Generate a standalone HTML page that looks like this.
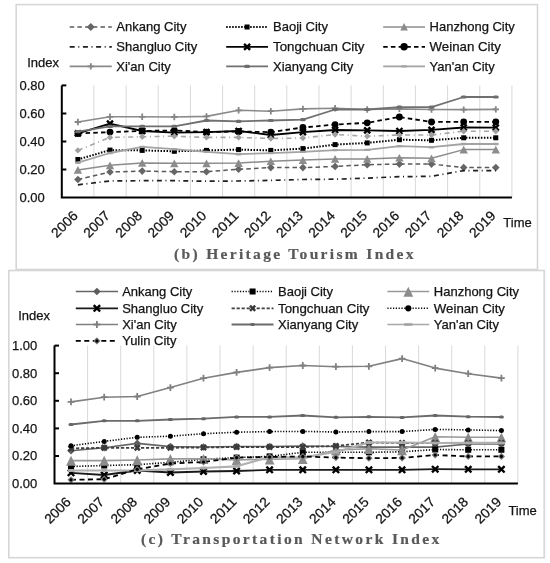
<!DOCTYPE html>
<html><head><meta charset="utf-8"><title>Heritage Tourism Index and Transportation Network Index</title>
<style>
html,body{margin:0;padding:0;background:#fff;width:550px;height:563px;overflow:hidden}
svg{display:block}
text{fill:#141414;stroke:#141414;stroke-width:0.25px}
text.ttl{fill:#595959;stroke:#595959;stroke-width:0.2px}
</style></head><body>
<svg width="550" height="563" viewBox="0 0 550 563" font-family='"Liberation Sans", Arial, sans-serif' font-size="13">
<rect width="550" height="563" fill="#fff"/>
<rect x="16.2" y="4.6" width="521.3" height="264.9" fill="none" stroke="#d6d6d6" stroke-width="1.6"/>
<rect x="8.8" y="270.5" width="535.4" height="287.2" fill="none" stroke="#d6d6d6" stroke-width="1.6"/>
<line x1="93.9" y1="85.4" x2="93.9" y2="197.6" stroke="#d9d9d9" stroke-width="1"/>
<line x1="126.1" y1="85.4" x2="126.1" y2="197.6" stroke="#d9d9d9" stroke-width="1"/>
<line x1="158.2" y1="85.4" x2="158.2" y2="197.6" stroke="#d9d9d9" stroke-width="1"/>
<line x1="190.4" y1="85.4" x2="190.4" y2="197.6" stroke="#d9d9d9" stroke-width="1"/>
<line x1="222.6" y1="85.4" x2="222.6" y2="197.6" stroke="#d9d9d9" stroke-width="1"/>
<line x1="254.7" y1="85.4" x2="254.7" y2="197.6" stroke="#d9d9d9" stroke-width="1"/>
<line x1="286.8" y1="85.4" x2="286.8" y2="197.6" stroke="#d9d9d9" stroke-width="1"/>
<line x1="319" y1="85.4" x2="319" y2="197.6" stroke="#d9d9d9" stroke-width="1"/>
<line x1="351.1" y1="85.4" x2="351.1" y2="197.6" stroke="#d9d9d9" stroke-width="1"/>
<line x1="383.3" y1="85.4" x2="383.3" y2="197.6" stroke="#d9d9d9" stroke-width="1"/>
<line x1="415.4" y1="85.4" x2="415.4" y2="197.6" stroke="#d9d9d9" stroke-width="1"/>
<line x1="447.6" y1="85.4" x2="447.6" y2="197.6" stroke="#d9d9d9" stroke-width="1"/>
<line x1="479.8" y1="85.4" x2="479.8" y2="197.6" stroke="#d9d9d9" stroke-width="1"/>
<line x1="511.9" y1="85.4" x2="511.9" y2="197.6" stroke="#d9d9d9" stroke-width="1"/>
<polyline points="77.9,179.5 110,172 142.2,171.1 174.3,171.7 206.5,171.7 238.6,169.3 270.8,167.6 302.9,167.6 335.1,166.4 367.2,164.7 399.4,164.1 431.5,164.1 463.7,167.6 495.8,167.6" fill="none" stroke="#595959" stroke-width="1.5" stroke-linejoin="round" stroke-dasharray="4.5 3.2"/>
<polygon points="77.9,175.7 81.7,179.5 77.9,183.3 74.1,179.5" fill="#666666"/>
<polygon points="110,168.2 113.8,172 110,175.8 106.2,172" fill="#666666"/>
<polygon points="142.2,167.3 146,171.1 142.2,174.9 138.4,171.1" fill="#666666"/>
<polygon points="174.3,167.9 178.1,171.7 174.3,175.5 170.5,171.7" fill="#666666"/>
<polygon points="206.5,167.9 210.3,171.7 206.5,175.5 202.7,171.7" fill="#666666"/>
<polygon points="238.6,165.5 242.4,169.3 238.6,173.1 234.8,169.3" fill="#666666"/>
<polygon points="270.8,163.8 274.6,167.6 270.8,171.4 267,167.6" fill="#666666"/>
<polygon points="302.9,163.8 306.7,167.6 302.9,171.4 299.1,167.6" fill="#666666"/>
<polygon points="335.1,162.6 338.9,166.4 335.1,170.2 331.3,166.4" fill="#666666"/>
<polygon points="367.2,160.9 371,164.7 367.2,168.5 363.4,164.7" fill="#666666"/>
<polygon points="399.4,160.3 403.2,164.1 399.4,167.9 395.6,164.1" fill="#666666"/>
<polygon points="431.5,160.3 435.3,164.1 431.5,167.9 427.7,164.1" fill="#666666"/>
<polygon points="463.7,163.8 467.5,167.6 463.7,171.4 459.9,167.6" fill="#666666"/>
<polygon points="495.8,163.8 499.6,167.6 495.8,171.4 492,167.6" fill="#666666"/>
<polyline points="77.9,159.5 110,150.1 142.2,150.4 174.3,151.3 206.5,150.4 238.6,149.6 270.8,150.4 302.9,148.6 335.1,144.6 367.2,142.9 399.4,139.7 431.5,140.3 463.7,137.8 495.8,137.8" fill="none" stroke="#000" stroke-width="2" stroke-linejoin="round" stroke-dasharray="1.5 1.5"/>
<rect x="75.4" y="157" width="5" height="5" fill="#000"/>
<rect x="107.5" y="147.6" width="5" height="5" fill="#000"/>
<rect x="139.7" y="147.9" width="5" height="5" fill="#000"/>
<rect x="171.8" y="148.8" width="5" height="5" fill="#000"/>
<rect x="204" y="147.9" width="5" height="5" fill="#000"/>
<rect x="236.1" y="147.1" width="5" height="5" fill="#000"/>
<rect x="268.3" y="147.9" width="5" height="5" fill="#000"/>
<rect x="300.4" y="146.1" width="5" height="5" fill="#000"/>
<rect x="332.6" y="142.1" width="5" height="5" fill="#000"/>
<rect x="364.7" y="140.4" width="5" height="5" fill="#000"/>
<rect x="396.9" y="137.2" width="5" height="5" fill="#000"/>
<rect x="429" y="137.8" width="5" height="5" fill="#000"/>
<rect x="461.2" y="135.3" width="5" height="5" fill="#000"/>
<rect x="493.3" y="135.3" width="5" height="5" fill="#000"/>
<polyline points="77.9,169.9 110,165.3 142.2,162.9 174.3,163.3 206.5,163.3 238.6,163 270.8,161.2 302.9,160 335.1,158.9 367.2,158.9 399.4,157.7 431.5,158.3 463.7,149.6 495.8,149.6" fill="none" stroke="#8c8c8c" stroke-width="1.5" stroke-linejoin="round"/>
<polygon points="77.9,166.1 82.1,173.8 73.7,173.8" fill="#8c8c8c"/>
<polygon points="110,161.5 114.2,169.2 105.8,169.2" fill="#8c8c8c"/>
<polygon points="142.2,159.1 146.4,166.8 138,166.8" fill="#8c8c8c"/>
<polygon points="174.3,159.5 178.5,167.2 170.1,167.2" fill="#8c8c8c"/>
<polygon points="206.5,159.5 210.7,167.2 202.3,167.2" fill="#8c8c8c"/>
<polygon points="238.6,159.2 242.8,166.9 234.4,166.9" fill="#8c8c8c"/>
<polygon points="270.8,157.4 275,165.1 266.6,165.1" fill="#8c8c8c"/>
<polygon points="302.9,156.2 307.1,163.9 298.7,163.9" fill="#8c8c8c"/>
<polygon points="335.1,155.1 339.3,162.8 330.9,162.8" fill="#8c8c8c"/>
<polygon points="367.2,155.1 371.4,162.8 363,162.8" fill="#8c8c8c"/>
<polygon points="399.4,153.9 403.6,161.6 395.2,161.6" fill="#8c8c8c"/>
<polygon points="431.5,154.5 435.7,162.2 427.3,162.2" fill="#8c8c8c"/>
<polygon points="463.7,145.8 467.9,153.5 459.5,153.5" fill="#8c8c8c"/>
<polygon points="495.8,145.8 500,153.5 491.6,153.5" fill="#8c8c8c"/>
<polyline points="77.9,184.8 110,181 142.2,180.7 174.3,180.7 206.5,181.2 238.6,181 270.8,180.4 302.9,179.5 335.1,179.2 367.2,178.1 399.4,176.7 431.5,176.3 463.7,170.6 495.8,170.6" fill="none" stroke="#1f1f1f" stroke-width="1.7" stroke-linejoin="round" stroke-dasharray="5 3.6 1 3.6"/>














<polyline points="77.9,133.3 110,123.6 142.2,131 174.3,132.7 206.5,132.1 238.6,131 270.8,135 302.9,132.1 335.1,130 367.2,130.4 399.4,131 431.5,129.8 463.7,127.5 495.8,127.6" fill="none" stroke="#000" stroke-width="1.8" stroke-linejoin="round"/>
<path d="M74.9 130.3L80.9 136.3M80.9 130.3L74.9 136.3" stroke="#000" stroke-width="2.4" fill="none"/>
<path d="M107 120.6L113 126.6M113 120.6L107 126.6" stroke="#000" stroke-width="2.4" fill="none"/>
<path d="M139.2 128L145.2 134M145.2 128L139.2 134" stroke="#000" stroke-width="2.4" fill="none"/>
<path d="M171.3 129.7L177.3 135.7M177.3 129.7L171.3 135.7" stroke="#000" stroke-width="2.4" fill="none"/>
<path d="M203.5 129.1L209.5 135.1M209.5 129.1L203.5 135.1" stroke="#000" stroke-width="2.4" fill="none"/>
<path d="M235.6 128L241.6 134M241.6 128L235.6 134" stroke="#000" stroke-width="2.4" fill="none"/>
<path d="M267.8 132L273.8 138M273.8 132L267.8 138" stroke="#000" stroke-width="2.4" fill="none"/>
<path d="M299.9 129.1L305.9 135.1M305.9 129.1L299.9 135.1" stroke="#000" stroke-width="2.4" fill="none"/>
<path d="M332.1 127L338.1 133M338.1 127L332.1 133" stroke="#000" stroke-width="2.4" fill="none"/>
<path d="M364.2 127.4L370.2 133.4M370.2 127.4L364.2 133.4" stroke="#000" stroke-width="2.4" fill="none"/>
<path d="M396.4 128L402.4 134M402.4 128L396.4 134" stroke="#000" stroke-width="2.4" fill="none"/>
<path d="M428.5 126.8L434.5 132.8M434.5 126.8L428.5 132.8" stroke="#000" stroke-width="2.4" fill="none"/>
<path d="M460.7 124.5L466.7 130.5M466.7 124.5L460.7 130.5" stroke="#000" stroke-width="2.4" fill="none"/>
<path d="M492.8 124.6L498.8 130.6M498.8 124.6L492.8 130.6" stroke="#000" stroke-width="2.4" fill="none"/>
<polyline points="77.9,133.5 110,132.1 142.2,131 174.3,130.4 206.5,132.1 238.6,131.5 270.8,132.1 302.9,127.5 335.1,124.6 367.2,122.8 399.4,117 431.5,122 463.7,121.8 495.8,121.8" fill="none" stroke="#000" stroke-width="1.8" stroke-linejoin="round" stroke-dasharray="4.5 3.2"/>
<circle cx="77.9" cy="133.5" r="3.4" fill="#000"/>
<circle cx="110" cy="132.1" r="3.4" fill="#000"/>
<circle cx="142.2" cy="131" r="3.4" fill="#000"/>
<circle cx="174.3" cy="130.4" r="3.4" fill="#000"/>
<circle cx="206.5" cy="132.1" r="3.4" fill="#000"/>
<circle cx="238.6" cy="131.5" r="3.4" fill="#000"/>
<circle cx="270.8" cy="132.1" r="3.4" fill="#000"/>
<circle cx="302.9" cy="127.5" r="3.4" fill="#000"/>
<circle cx="335.1" cy="124.6" r="3.4" fill="#000"/>
<circle cx="367.2" cy="122.8" r="3.4" fill="#000"/>
<circle cx="399.4" cy="117" r="3.4" fill="#000"/>
<circle cx="431.5" cy="122" r="3.4" fill="#000"/>
<circle cx="463.7" cy="121.8" r="3.4" fill="#000"/>
<circle cx="495.8" cy="121.8" r="3.4" fill="#000"/>
<polyline points="77.9,122 110,116.8 142.2,116.8 174.3,117 206.5,116.4 238.6,110.3 270.8,111.2 302.9,108.9 335.1,108.3 367.2,109.5 399.4,108.9 431.5,109.5 463.7,109.6 495.8,109.4" fill="none" stroke="#8a8a8a" stroke-width="1.6" stroke-linejoin="round"/>
<path d="M74.7 122L81.1 122M77.9 118.8L77.9 125.2" stroke="#858585" stroke-width="1.8" fill="none"/>
<path d="M106.8 116.8L113.2 116.8M110 113.6L110 120" stroke="#858585" stroke-width="1.8" fill="none"/>
<path d="M139 116.8L145.4 116.8M142.2 113.6L142.2 120" stroke="#858585" stroke-width="1.8" fill="none"/>
<path d="M171.1 117L177.5 117M174.3 113.8L174.3 120.2" stroke="#858585" stroke-width="1.8" fill="none"/>
<path d="M203.3 116.4L209.7 116.4M206.5 113.2L206.5 119.6" stroke="#858585" stroke-width="1.8" fill="none"/>
<path d="M235.4 110.3L241.8 110.3M238.6 107.1L238.6 113.5" stroke="#858585" stroke-width="1.8" fill="none"/>
<path d="M267.6 111.2L274 111.2M270.8 108L270.8 114.4" stroke="#858585" stroke-width="1.8" fill="none"/>
<path d="M299.7 108.9L306.1 108.9M302.9 105.7L302.9 112.1" stroke="#858585" stroke-width="1.8" fill="none"/>
<path d="M331.9 108.3L338.3 108.3M335.1 105.1L335.1 111.5" stroke="#858585" stroke-width="1.8" fill="none"/>
<path d="M364 109.5L370.4 109.5M367.2 106.3L367.2 112.7" stroke="#858585" stroke-width="1.8" fill="none"/>
<path d="M396.2 108.9L402.6 108.9M399.4 105.7L399.4 112.1" stroke="#858585" stroke-width="1.8" fill="none"/>
<path d="M428.3 109.5L434.7 109.5M431.5 106.3L431.5 112.7" stroke="#858585" stroke-width="1.8" fill="none"/>
<path d="M460.5 109.6L466.9 109.6M463.7 106.4L463.7 112.8" stroke="#858585" stroke-width="1.8" fill="none"/>
<path d="M492.6 109.4L499 109.4M495.8 106.2L495.8 112.6" stroke="#858585" stroke-width="1.8" fill="none"/>
<polyline points="77.9,131.6 110,126.3 142.2,126.3 174.3,126.3 206.5,120.5 238.6,121.3 270.8,120.5 302.9,119.6 335.1,109.5 367.2,109.5 399.4,107.1 431.5,107.1 463.7,97 495.8,97" fill="none" stroke="#707070" stroke-width="1.8" stroke-linejoin="round"/>
<rect x="74.9" y="130" width="6" height="3.2" rx="1.6" fill="#6e6e6e"/>
<rect x="107" y="124.7" width="6" height="3.2" rx="1.6" fill="#6e6e6e"/>
<rect x="139.2" y="124.7" width="6" height="3.2" rx="1.6" fill="#6e6e6e"/>
<rect x="171.3" y="124.7" width="6" height="3.2" rx="1.6" fill="#6e6e6e"/>
<rect x="203.5" y="118.9" width="6" height="3.2" rx="1.6" fill="#6e6e6e"/>
<rect x="235.6" y="119.7" width="6" height="3.2" rx="1.6" fill="#6e6e6e"/>
<rect x="267.8" y="118.9" width="6" height="3.2" rx="1.6" fill="#6e6e6e"/>
<rect x="299.9" y="118" width="6" height="3.2" rx="1.6" fill="#6e6e6e"/>
<rect x="332.1" y="107.9" width="6" height="3.2" rx="1.6" fill="#6e6e6e"/>
<rect x="364.2" y="107.9" width="6" height="3.2" rx="1.6" fill="#6e6e6e"/>
<rect x="396.4" y="105.5" width="6" height="3.2" rx="1.6" fill="#6e6e6e"/>
<rect x="428.5" y="105.5" width="6" height="3.2" rx="1.6" fill="#6e6e6e"/>
<rect x="460.7" y="95.4" width="6" height="3.2" rx="1.6" fill="#6e6e6e"/>
<rect x="492.8" y="95.4" width="6" height="3.2" rx="1.6" fill="#6e6e6e"/>
<polyline points="77.9,162.7 110,153 142.2,146.9 174.3,149.2 206.5,151.9 238.6,154.2 270.8,153.1 302.9,151.9 335.1,150.1 367.2,149.9 399.4,146.1 431.5,147.2 463.7,144 495.8,144" fill="none" stroke="#a3a3a3" stroke-width="1.8" stroke-linejoin="round"/>
<rect x="74.9" y="161.5" width="6" height="2.4" rx="1.2" fill="#a3a3a3"/>
<rect x="107" y="151.8" width="6" height="2.4" rx="1.2" fill="#a3a3a3"/>
<rect x="139.2" y="145.7" width="6" height="2.4" rx="1.2" fill="#a3a3a3"/>
<rect x="171.3" y="148" width="6" height="2.4" rx="1.2" fill="#a3a3a3"/>
<rect x="203.5" y="150.7" width="6" height="2.4" rx="1.2" fill="#a3a3a3"/>
<rect x="235.6" y="153" width="6" height="2.4" rx="1.2" fill="#a3a3a3"/>
<rect x="267.8" y="151.9" width="6" height="2.4" rx="1.2" fill="#a3a3a3"/>
<rect x="299.9" y="150.7" width="6" height="2.4" rx="1.2" fill="#a3a3a3"/>
<rect x="332.1" y="148.9" width="6" height="2.4" rx="1.2" fill="#a3a3a3"/>
<rect x="364.2" y="148.7" width="6" height="2.4" rx="1.2" fill="#a3a3a3"/>
<rect x="396.4" y="144.9" width="6" height="2.4" rx="1.2" fill="#a3a3a3"/>
<rect x="428.5" y="146" width="6" height="2.4" rx="1.2" fill="#a3a3a3"/>
<rect x="460.7" y="142.8" width="6" height="2.4" rx="1.2" fill="#a3a3a3"/>
<rect x="492.8" y="142.8" width="6" height="2.4" rx="1.2" fill="#a3a3a3"/>
<polyline points="77.9,150.4 110,137.4 142.2,136.8 174.3,136.2 206.5,137.4 238.6,137.4 270.8,138.5 302.9,138 335.1,134.5 367.2,136.2 399.4,135 431.5,135 463.7,131.2 495.8,131.2" fill="none" stroke="#a6a6a6" stroke-width="1.6" stroke-linejoin="round" stroke-dasharray="5 3.6 1 3.6"/>
<polygon points="77.9,147.2 81.1,150.4 77.9,153.6 74.7,150.4" fill="#a0a0a0"/>
<polygon points="110,134.2 113.2,137.4 110,140.6 106.8,137.4" fill="#a0a0a0"/>
<polygon points="142.2,133.6 145.4,136.8 142.2,140 139,136.8" fill="#a0a0a0"/>
<polygon points="174.3,133 177.5,136.2 174.3,139.4 171.1,136.2" fill="#a0a0a0"/>
<polygon points="206.5,134.2 209.7,137.4 206.5,140.6 203.3,137.4" fill="#a0a0a0"/>
<polygon points="238.6,134.2 241.8,137.4 238.6,140.6 235.4,137.4" fill="#a0a0a0"/>
<polygon points="270.8,135.3 274,138.5 270.8,141.7 267.6,138.5" fill="#a0a0a0"/>
<polygon points="302.9,134.8 306.1,138 302.9,141.2 299.7,138" fill="#a0a0a0"/>
<polygon points="335.1,131.3 338.3,134.5 335.1,137.7 331.9,134.5" fill="#a0a0a0"/>
<polygon points="367.2,133 370.4,136.2 367.2,139.4 364,136.2" fill="#a0a0a0"/>
<polygon points="399.4,131.8 402.6,135 399.4,138.2 396.2,135" fill="#a0a0a0"/>
<polygon points="431.5,131.8 434.7,135 431.5,138.2 428.3,135" fill="#a0a0a0"/>
<polygon points="463.7,128 466.9,131.2 463.7,134.4 460.5,131.2" fill="#a0a0a0"/>
<polygon points="495.8,128 499,131.2 495.8,134.4 492.6,131.2" fill="#a0a0a0"/>
<path d="M61.8 85.4V197.6H511.9" fill="none" stroke="#000" stroke-width="2"/>
<text x="44.8" y="201.9" text-anchor="end">0.00</text>
<line x1="61.8" y1="169.5" x2="66.3" y2="169.5" stroke="#000" stroke-width="2"/>
<text x="44.8" y="173.8" text-anchor="end">0.20</text>
<line x1="61.8" y1="141.5" x2="66.3" y2="141.5" stroke="#000" stroke-width="2"/>
<text x="44.8" y="145.8" text-anchor="end">0.40</text>
<line x1="61.8" y1="113.5" x2="66.3" y2="113.5" stroke="#000" stroke-width="2"/>
<text x="44.8" y="117.8" text-anchor="end">0.60</text>
<line x1="61.8" y1="85.4" x2="66.3" y2="85.4" stroke="#000" stroke-width="2"/>
<text x="44.8" y="89.7" text-anchor="end">0.80</text>
<text x="27.2" y="66.9">Index</text>
<text transform="translate(78.7,216.5) rotate(-45)" text-anchor="end" font-size="13.6" textLength="31" lengthAdjust="spacingAndGlyphs">2006</text>
<text transform="translate(110.8,216.5) rotate(-45)" text-anchor="end" font-size="13.6" textLength="31" lengthAdjust="spacingAndGlyphs">2007</text>
<text transform="translate(143,216.5) rotate(-45)" text-anchor="end" font-size="13.6" textLength="31" lengthAdjust="spacingAndGlyphs">2008</text>
<text transform="translate(175.1,216.5) rotate(-45)" text-anchor="end" font-size="13.6" textLength="31" lengthAdjust="spacingAndGlyphs">2009</text>
<text transform="translate(207.3,216.5) rotate(-45)" text-anchor="end" font-size="13.6" textLength="31" lengthAdjust="spacingAndGlyphs">2010</text>
<text transform="translate(239.4,216.5) rotate(-45)" text-anchor="end" font-size="13.6" textLength="31" lengthAdjust="spacingAndGlyphs">2011</text>
<text transform="translate(271.6,216.5) rotate(-45)" text-anchor="end" font-size="13.6" textLength="31" lengthAdjust="spacingAndGlyphs">2012</text>
<text transform="translate(303.7,216.5) rotate(-45)" text-anchor="end" font-size="13.6" textLength="31" lengthAdjust="spacingAndGlyphs">2013</text>
<text transform="translate(335.9,216.5) rotate(-45)" text-anchor="end" font-size="13.6" textLength="31" lengthAdjust="spacingAndGlyphs">2014</text>
<text transform="translate(368,216.5) rotate(-45)" text-anchor="end" font-size="13.6" textLength="31" lengthAdjust="spacingAndGlyphs">2015</text>
<text transform="translate(400.2,216.5) rotate(-45)" text-anchor="end" font-size="13.6" textLength="31" lengthAdjust="spacingAndGlyphs">2016</text>
<text transform="translate(432.3,216.5) rotate(-45)" text-anchor="end" font-size="13.6" textLength="31" lengthAdjust="spacingAndGlyphs">2017</text>
<text transform="translate(464.5,216.5) rotate(-45)" text-anchor="end" font-size="13.6" textLength="31" lengthAdjust="spacingAndGlyphs">2018</text>
<text transform="translate(496.6,216.5) rotate(-45)" text-anchor="end" font-size="13.6" textLength="31" lengthAdjust="spacingAndGlyphs">2019</text>
<text x="503.3" y="227.1">Time</text>
<text x="174" y="258.7" font-family='"Liberation Serif", "Times New Roman", serif' font-weight="bold" font-size="15.5" class="ttl" textLength="239.5" lengthAdjust="spacing">(b) Heritage Tourism Index</text>
<line x1="69.7" y1="27" x2="111.8" y2="27" stroke="#595959" stroke-width="1.5" stroke-dasharray="4.5 3.2"/><polygon points="90.8,22.9 94.8,27 90.8,31.1 86.7,27" fill="#666666"/><text x="116.3" y="31.2">Ankang City</text>
<line x1="226.2" y1="27" x2="268" y2="27" stroke="#000" stroke-width="2" stroke-dasharray="1.5 1.5"/><rect x="244.6" y="24.5" width="5" height="5" fill="#000"/><text x="273" y="31.2">Baoji City</text>
<line x1="383.2" y1="27" x2="425" y2="27" stroke="#8c8c8c" stroke-width="1.5"/><polygon points="404.1,23 407.9,30.6 400.3,30.6" fill="#8c8c8c"/><text x="429.6" y="31.2">Hanzhong City</text>
<line x1="69.7" y1="46.8" x2="111.8" y2="46.8" stroke="#1f1f1f" stroke-width="1.7" stroke-dasharray="5 3.6 1 3.6"/><text x="116.3" y="51">Shangluo City</text>
<line x1="226.2" y1="46.8" x2="268" y2="46.8" stroke="#000" stroke-width="1.8"/><path d="M244.1 43.8L250.1 49.8M250.1 43.8L244.1 49.8" stroke="#000" stroke-width="2.4" fill="none"/><text x="273" y="51" textLength="91.5" lengthAdjust="spacingAndGlyphs">Tongchuan City</text>
<line x1="383.2" y1="46.8" x2="425" y2="46.8" stroke="#000" stroke-width="1.8" stroke-dasharray="4.5 3.2"/><circle cx="404.1" cy="46.8" r="3.7" fill="#000"/><text x="429.6" y="51" textLength="71.2" lengthAdjust="spacingAndGlyphs">Weinan City</text>
<line x1="69.7" y1="66.4" x2="111.8" y2="66.4" stroke="#8a8a8a" stroke-width="1.6"/><path d="M87.5 66.4L94 66.4M90.8 63.2L90.8 69.6" stroke="#858585" stroke-width="1.8" fill="none"/><text x="116.3" y="70.6">Xi'an City</text>
<line x1="226.2" y1="66.4" x2="268" y2="66.4" stroke="#707070" stroke-width="1.8"/><rect x="244.1" y="64.8" width="6" height="3.2" rx="1.6" fill="#6e6e6e"/><text x="273" y="70.6">Xianyang City</text>
<line x1="383.2" y1="66.4" x2="425" y2="66.4" stroke="#a3a3a3" stroke-width="1.8"/><rect x="401.1" y="65.2" width="6" height="2.4" rx="1.2" fill="#a3a3a3"/><text x="429.6" y="70.6">Yan'an City</text>
<line x1="87.6" y1="345.6" x2="87.6" y2="483.6" stroke="#d9d9d9" stroke-width="1"/>
<line x1="120.7" y1="345.6" x2="120.7" y2="483.6" stroke="#d9d9d9" stroke-width="1"/>
<line x1="153.8" y1="345.6" x2="153.8" y2="483.6" stroke="#d9d9d9" stroke-width="1"/>
<line x1="186.9" y1="345.6" x2="186.9" y2="483.6" stroke="#d9d9d9" stroke-width="1"/>
<line x1="220" y1="345.6" x2="220" y2="483.6" stroke="#d9d9d9" stroke-width="1"/>
<line x1="253.1" y1="345.6" x2="253.1" y2="483.6" stroke="#d9d9d9" stroke-width="1"/>
<line x1="286.2" y1="345.6" x2="286.2" y2="483.6" stroke="#d9d9d9" stroke-width="1"/>
<line x1="319.3" y1="345.6" x2="319.3" y2="483.6" stroke="#d9d9d9" stroke-width="1"/>
<line x1="352.4" y1="345.6" x2="352.4" y2="483.6" stroke="#d9d9d9" stroke-width="1"/>
<line x1="385.5" y1="345.6" x2="385.5" y2="483.6" stroke="#d9d9d9" stroke-width="1"/>
<line x1="418.6" y1="345.6" x2="418.6" y2="483.6" stroke="#d9d9d9" stroke-width="1"/>
<line x1="451.7" y1="345.6" x2="451.7" y2="483.6" stroke="#d9d9d9" stroke-width="1"/>
<line x1="484.8" y1="345.6" x2="484.8" y2="483.6" stroke="#d9d9d9" stroke-width="1"/>
<line x1="517.9" y1="345.6" x2="517.9" y2="483.6" stroke="#d9d9d9" stroke-width="1"/>
<polyline points="71,450.7 104.2,447.8 137.2,443.4 170.4,446.6 203.5,447 236.6,446.5 269.6,446.5 302.8,446 335.9,446.5 368.9,447.1 402.1,447.1 435.2,447.1 468.2,444 501.4,444" fill="none" stroke="#666666" stroke-width="1.6" stroke-linejoin="round"/>
<polygon points="71,446.9 74.8,450.7 71,454.5 67.2,450.7" fill="#5e5e5e"/>
<polygon points="104.2,444 108,447.8 104.2,451.6 100.4,447.8" fill="#5e5e5e"/>
<polygon points="137.2,439.6 141.1,443.4 137.2,447.2 133.4,443.4" fill="#5e5e5e"/>
<polygon points="170.4,442.8 174.2,446.6 170.4,450.4 166.6,446.6" fill="#5e5e5e"/>
<polygon points="203.5,443.2 207.3,447 203.5,450.8 199.7,447" fill="#5e5e5e"/>
<polygon points="236.6,442.7 240.4,446.5 236.6,450.3 232.8,446.5" fill="#5e5e5e"/>
<polygon points="269.6,442.7 273.4,446.5 269.6,450.3 265.8,446.5" fill="#5e5e5e"/>
<polygon points="302.8,442.2 306.6,446 302.8,449.8 298.9,446" fill="#5e5e5e"/>
<polygon points="335.9,442.7 339.7,446.5 335.9,450.3 332.1,446.5" fill="#5e5e5e"/>
<polygon points="368.9,443.3 372.8,447.1 368.9,450.9 365.1,447.1" fill="#5e5e5e"/>
<polygon points="402.1,443.3 405.9,447.1 402.1,450.9 398.2,447.1" fill="#5e5e5e"/>
<polygon points="435.2,443.3 439,447.1 435.2,450.9 431.4,447.1" fill="#5e5e5e"/>
<polygon points="468.2,440.2 472.1,444 468.2,447.8 464.4,444" fill="#5e5e5e"/>
<polygon points="501.4,440.2 505.2,444 501.4,447.8 497.6,444" fill="#5e5e5e"/>
<polyline points="71,466.5 104.2,465.5 137.2,464.7 170.4,462.3 203.5,459.3 236.6,457.6 269.6,456.4 302.8,452.3 335.9,452.3 368.9,452.3 402.1,451.8 435.2,449.5 468.2,449.8 501.4,449.8" fill="none" stroke="#000" stroke-width="1.6" stroke-linejoin="round" stroke-dasharray="1.2 1.6"/>
<rect x="68" y="463.5" width="6" height="6" fill="#000"/>
<rect x="101.2" y="462.5" width="6" height="6" fill="#000"/>
<rect x="134.2" y="461.7" width="6" height="6" fill="#000"/>
<rect x="167.4" y="459.3" width="6" height="6" fill="#000"/>
<rect x="200.5" y="456.3" width="6" height="6" fill="#000"/>
<rect x="233.6" y="454.6" width="6" height="6" fill="#000"/>
<rect x="266.6" y="453.4" width="6" height="6" fill="#000"/>
<rect x="299.8" y="449.3" width="6" height="6" fill="#000"/>
<rect x="332.9" y="449.3" width="6" height="6" fill="#000"/>
<rect x="365.9" y="449.3" width="6" height="6" fill="#000"/>
<rect x="399.1" y="448.8" width="6" height="6" fill="#000"/>
<rect x="432.2" y="446.5" width="6" height="6" fill="#000"/>
<rect x="465.2" y="446.8" width="6" height="6" fill="#000"/>
<rect x="498.4" y="446.8" width="6" height="6" fill="#000"/>
<polyline points="71,460.6 104.2,460.6 137.2,460 170.4,458.9 203.5,458.7 236.6,459.9 269.6,459.3 302.8,458.7 335.9,450 368.9,448.8 402.1,450 435.2,436.8 468.2,437.2 501.4,437.2" fill="none" stroke="#999" stroke-width="1.6" stroke-linejoin="round"/>
<polygon points="71,455.8 76,465.8 66.1,465.8" fill="#8c8c8c"/>
<polygon points="104.2,455.8 109.1,465.8 99.2,465.8" fill="#8c8c8c"/>
<polygon points="137.2,455.2 142.2,465.2 132.3,465.2" fill="#8c8c8c"/>
<polygon points="170.4,454.1 175.3,464.1 165.5,464.1" fill="#8c8c8c"/>
<polygon points="203.5,453.9 208.4,463.9 198.6,463.9" fill="#8c8c8c"/>
<polygon points="236.6,455.1 241.5,465.1 231.7,465.1" fill="#8c8c8c"/>
<polygon points="269.6,454.5 274.5,464.5 264.8,464.5" fill="#8c8c8c"/>
<polygon points="302.8,453.9 307.6,463.9 297.9,463.9" fill="#8c8c8c"/>
<polygon points="335.9,445.2 340.8,455.2 331,455.2" fill="#8c8c8c"/>
<polygon points="368.9,444 373.8,454 364.1,454" fill="#8c8c8c"/>
<polygon points="402.1,445.2 406.9,455.2 397.2,455.2" fill="#8c8c8c"/>
<polygon points="435.2,432 440.1,442 430.3,442" fill="#8c8c8c"/>
<polygon points="468.2,432.4 473.1,442.4 463.4,442.4" fill="#8c8c8c"/>
<polygon points="501.4,432.4 506.2,442.4 496.5,442.4" fill="#8c8c8c"/>
<polyline points="71,472.8 104.2,475 137.2,470.5 170.4,472.5 203.5,471.5 236.6,471 269.6,469.8 302.8,469.8 335.9,469.8 368.9,469.8 402.1,469.8 435.2,469.2 468.2,469.3 501.4,469.3" fill="none" stroke="#1a1a1a" stroke-width="1.8" stroke-linejoin="round"/>
<path d="M67.8 469.6L74.2 476M74.2 469.6L67.8 476" stroke="#000" stroke-width="2.4" fill="none"/>
<path d="M101 471.8L107.4 478.2M107.4 471.8L101 478.2" stroke="#000" stroke-width="2.4" fill="none"/>
<path d="M134.1 467.3L140.4 473.7M140.4 467.3L134.1 473.7" stroke="#000" stroke-width="2.4" fill="none"/>
<path d="M167.2 469.3L173.6 475.7M173.6 469.3L167.2 475.7" stroke="#000" stroke-width="2.4" fill="none"/>
<path d="M200.3 468.3L206.7 474.7M206.7 468.3L200.3 474.7" stroke="#000" stroke-width="2.4" fill="none"/>
<path d="M233.4 467.8L239.8 474.2M239.8 467.8L233.4 474.2" stroke="#000" stroke-width="2.4" fill="none"/>
<path d="M266.4 466.6L272.8 473M272.8 466.6L266.4 473" stroke="#000" stroke-width="2.4" fill="none"/>
<path d="M299.6 466.6L305.9 473M305.9 466.6L299.6 473" stroke="#000" stroke-width="2.4" fill="none"/>
<path d="M332.7 466.6L339.1 473M339.1 466.6L332.7 473" stroke="#000" stroke-width="2.4" fill="none"/>
<path d="M365.8 466.6L372.1 473M372.1 466.6L365.8 473" stroke="#000" stroke-width="2.4" fill="none"/>
<path d="M398.9 466.6L405.2 473M405.2 466.6L398.9 473" stroke="#000" stroke-width="2.4" fill="none"/>
<path d="M432 466L438.4 472.4M438.4 466L432 472.4" stroke="#000" stroke-width="2.4" fill="none"/>
<path d="M465.1 466.1L471.4 472.5M471.4 466.1L465.1 472.5" stroke="#000" stroke-width="2.4" fill="none"/>
<path d="M498.2 466.1L504.6 472.5M504.6 466.1L498.2 472.5" stroke="#000" stroke-width="2.4" fill="none"/>
<polyline points="71,448.4 104.2,447.8 137.2,447.8 170.4,447.8 203.5,447.5 236.6,447 269.6,447 302.8,447 335.9,446 368.9,442.5 402.1,443 435.2,443 468.2,443 501.4,443" fill="none" stroke="#404040" stroke-width="1.8" stroke-linejoin="round" stroke-dasharray="3.2 1.8"/>
<path d="M68.5 445.8L73.6 451M73.6 445.8L68.5 451" stroke="#3a3a3a" stroke-width="2.4" fill="none"/>
<path d="M101.6 445.2L106.8 450.4M106.8 445.2L101.6 450.4" stroke="#3a3a3a" stroke-width="2.4" fill="none"/>
<path d="M134.7 445.2L139.8 450.4M139.8 445.2L134.7 450.4" stroke="#3a3a3a" stroke-width="2.4" fill="none"/>
<path d="M167.8 445.2L173 450.4M173 445.2L167.8 450.4" stroke="#3a3a3a" stroke-width="2.4" fill="none"/>
<path d="M200.9 444.9L206.1 450.1M206.1 444.9L200.9 450.1" stroke="#3a3a3a" stroke-width="2.4" fill="none"/>
<path d="M234 444.4L239.2 449.6M239.2 444.4L234 449.6" stroke="#3a3a3a" stroke-width="2.4" fill="none"/>
<path d="M267 444.4L272.2 449.6M272.2 444.4L267 449.6" stroke="#3a3a3a" stroke-width="2.4" fill="none"/>
<path d="M300.1 444.4L305.4 449.6M305.4 444.4L300.1 449.6" stroke="#3a3a3a" stroke-width="2.4" fill="none"/>
<path d="M333.2 443.4L338.5 448.6M338.5 443.4L333.2 448.6" stroke="#3a3a3a" stroke-width="2.4" fill="none"/>
<path d="M366.3 439.9L371.6 445.1M371.6 439.9L366.3 445.1" stroke="#3a3a3a" stroke-width="2.4" fill="none"/>
<path d="M399.4 440.4L404.7 445.6M404.7 440.4L399.4 445.6" stroke="#3a3a3a" stroke-width="2.4" fill="none"/>
<path d="M432.6 440.4L437.8 445.6M437.8 440.4L432.6 445.6" stroke="#3a3a3a" stroke-width="2.4" fill="none"/>
<path d="M465.6 440.4L470.9 445.6M470.9 440.4L465.6 445.6" stroke="#3a3a3a" stroke-width="2.4" fill="none"/>
<path d="M498.8 440.4L504 445.6M504 440.4L498.8 445.6" stroke="#3a3a3a" stroke-width="2.4" fill="none"/>
<polyline points="71,445.7 104.2,441.4 137.2,437.3 170.4,436.2 203.5,433.7 236.6,432.2 269.6,431.6 302.8,431.4 335.9,432 368.9,431.6 402.1,431.6 435.2,429.4 468.2,429.9 501.4,430.6" fill="none" stroke="#000" stroke-width="1.6" stroke-linejoin="round" stroke-dasharray="1.2 1.6"/>
<circle cx="71" cy="445.7" r="2.5" fill="#000"/>
<circle cx="104.2" cy="441.4" r="2.5" fill="#000"/>
<circle cx="137.2" cy="437.3" r="2.5" fill="#000"/>
<circle cx="170.4" cy="436.2" r="2.5" fill="#000"/>
<circle cx="203.5" cy="433.7" r="2.5" fill="#000"/>
<circle cx="236.6" cy="432.2" r="2.5" fill="#000"/>
<circle cx="269.6" cy="431.6" r="2.5" fill="#000"/>
<circle cx="302.8" cy="431.4" r="2.5" fill="#000"/>
<circle cx="335.9" cy="432" r="2.5" fill="#000"/>
<circle cx="368.9" cy="431.6" r="2.5" fill="#000"/>
<circle cx="402.1" cy="431.6" r="2.5" fill="#000"/>
<circle cx="435.2" cy="429.4" r="2.5" fill="#000"/>
<circle cx="468.2" cy="429.9" r="2.5" fill="#000"/>
<circle cx="501.4" cy="430.6" r="2.5" fill="#000"/>
<polyline points="71,401.9 104.2,397.2 137.2,396.5 170.4,387.6 203.5,378.2 236.6,372.4 269.6,367.6 302.8,365.5 335.9,366.7 368.9,366.3 402.1,358.6 435.2,368.1 468.2,373.7 501.4,378.1" fill="none" stroke="#808080" stroke-width="1.6" stroke-linejoin="round"/>
<path d="M67.6 401.9L74.5 401.9M71 398.5L71 405.3" stroke="#808080" stroke-width="1.8" fill="none"/>
<path d="M100.8 397.2L107.6 397.2M104.2 393.8L104.2 400.6" stroke="#808080" stroke-width="1.8" fill="none"/>
<path d="M133.8 396.5L140.7 396.5M137.2 393.1L137.2 399.9" stroke="#808080" stroke-width="1.8" fill="none"/>
<path d="M167 387.6L173.8 387.6M170.4 384.2L170.4 391" stroke="#808080" stroke-width="1.8" fill="none"/>
<path d="M200.1 378.2L206.9 378.2M203.5 374.8L203.5 381.6" stroke="#808080" stroke-width="1.8" fill="none"/>
<path d="M233.2 372.4L240 372.4M236.6 369L236.6 375.8" stroke="#808080" stroke-width="1.8" fill="none"/>
<path d="M266.2 367.6L273 367.6M269.6 364.2L269.6 371" stroke="#808080" stroke-width="1.8" fill="none"/>
<path d="M299.4 365.5L306.1 365.5M302.8 362.1L302.8 368.9" stroke="#808080" stroke-width="1.8" fill="none"/>
<path d="M332.5 366.7L339.2 366.7M335.9 363.3L335.9 370.1" stroke="#808080" stroke-width="1.8" fill="none"/>
<path d="M365.6 366.3L372.3 366.3M368.9 362.9L368.9 369.7" stroke="#808080" stroke-width="1.8" fill="none"/>
<path d="M398.7 358.6L405.4 358.6M402.1 355.2L402.1 362" stroke="#808080" stroke-width="1.8" fill="none"/>
<path d="M431.8 368.1L438.6 368.1M435.2 364.7L435.2 371.5" stroke="#808080" stroke-width="1.8" fill="none"/>
<path d="M464.9 373.7L471.6 373.7M468.2 370.3L468.2 377.1" stroke="#808080" stroke-width="1.8" fill="none"/>
<path d="M498 378.1L504.8 378.1M501.4 374.7L501.4 381.5" stroke="#808080" stroke-width="1.8" fill="none"/>
<polyline points="71,424.5 104.2,420.8 137.2,420.8 170.4,419.5 203.5,418.7 236.6,416.9 269.6,416.9 302.8,415.5 335.9,417.3 368.9,416.8 402.1,417.4 435.2,415.5 468.2,416.7 501.4,417" fill="none" stroke="#6b6b6b" stroke-width="1.8" stroke-linejoin="round"/>
<rect x="68.5" y="423" width="5" height="3" rx="1.5" fill="#666"/>
<rect x="101.7" y="419.3" width="5" height="3" rx="1.5" fill="#666"/>
<rect x="134.8" y="419.3" width="5" height="3" rx="1.5" fill="#666"/>
<rect x="167.9" y="418" width="5" height="3" rx="1.5" fill="#666"/>
<rect x="201" y="417.2" width="5" height="3" rx="1.5" fill="#666"/>
<rect x="234.1" y="415.4" width="5" height="3" rx="1.5" fill="#666"/>
<rect x="267.1" y="415.4" width="5" height="3" rx="1.5" fill="#666"/>
<rect x="300.2" y="414" width="5" height="3" rx="1.5" fill="#666"/>
<rect x="333.4" y="415.8" width="5" height="3" rx="1.5" fill="#666"/>
<rect x="366.4" y="415.3" width="5" height="3" rx="1.5" fill="#666"/>
<rect x="399.6" y="415.9" width="5" height="3" rx="1.5" fill="#666"/>
<rect x="432.7" y="414" width="5" height="3" rx="1.5" fill="#666"/>
<rect x="465.8" y="415.2" width="5" height="3" rx="1.5" fill="#666"/>
<rect x="498.9" y="415.5" width="5" height="3" rx="1.5" fill="#666"/>
<polyline points="71,470.5 104.2,470.5 137.2,470.5 170.4,469.3 203.5,468 236.6,466.3 269.6,457 302.8,457.5 335.9,452 368.9,442.5 402.1,442.5 435.2,443 468.2,442.9 501.4,442.9" fill="none" stroke="#b0b0b0" stroke-width="2.2" stroke-linejoin="round"/>
<rect x="67.5" y="469" width="7" height="3" rx="1.5" fill="#aaaaaa"/>
<rect x="100.7" y="469" width="7" height="3" rx="1.5" fill="#aaaaaa"/>
<rect x="133.8" y="469" width="7" height="3" rx="1.5" fill="#aaaaaa"/>
<rect x="166.9" y="467.8" width="7" height="3" rx="1.5" fill="#aaaaaa"/>
<rect x="200" y="466.5" width="7" height="3" rx="1.5" fill="#aaaaaa"/>
<rect x="233.1" y="464.8" width="7" height="3" rx="1.5" fill="#aaaaaa"/>
<rect x="266.1" y="455.5" width="7" height="3" rx="1.5" fill="#aaaaaa"/>
<rect x="299.2" y="456" width="7" height="3" rx="1.5" fill="#aaaaaa"/>
<rect x="332.4" y="450.5" width="7" height="3" rx="1.5" fill="#aaaaaa"/>
<rect x="365.4" y="441" width="7" height="3" rx="1.5" fill="#aaaaaa"/>
<rect x="398.6" y="441" width="7" height="3" rx="1.5" fill="#aaaaaa"/>
<rect x="431.7" y="441.5" width="7" height="3" rx="1.5" fill="#aaaaaa"/>
<rect x="464.8" y="441.4" width="7" height="3" rx="1.5" fill="#aaaaaa"/>
<rect x="497.9" y="441.4" width="7" height="3" rx="1.5" fill="#aaaaaa"/>
<polyline points="71,479.8 104.2,479.2 137.2,469.3 170.4,463.5 203.5,462 236.6,457.6 269.6,457 302.8,456.4 335.9,457.6 368.9,458.2 402.1,457.9 435.2,455 468.2,456.4 501.4,456.4" fill="none" stroke="#000" stroke-width="1.8" stroke-linejoin="round" stroke-dasharray="5 3.5"/>
<polygon points="71,476.2 74.6,479.8 71,483.4 67.5,479.8" fill="#777" stroke="#777" stroke-width="0"/><circle cx="71" cy="479.8" r="1.6" fill="#000"/>
<polygon points="104.2,475.6 107.8,479.2 104.2,482.8 100.6,479.2" fill="#777" stroke="#777" stroke-width="0"/><circle cx="104.2" cy="479.2" r="1.6" fill="#000"/>
<polygon points="137.2,465.7 140.8,469.3 137.2,472.9 133.7,469.3" fill="#777" stroke="#777" stroke-width="0"/><circle cx="137.2" cy="469.3" r="1.6" fill="#000"/>
<polygon points="170.4,459.9 174,463.5 170.4,467.1 166.8,463.5" fill="#777" stroke="#777" stroke-width="0"/><circle cx="170.4" cy="463.5" r="1.6" fill="#000"/>
<polygon points="203.5,458.4 207.1,462 203.5,465.6 199.9,462" fill="#777" stroke="#777" stroke-width="0"/><circle cx="203.5" cy="462" r="1.6" fill="#000"/>
<polygon points="236.6,454 240.2,457.6 236.6,461.2 233,457.6" fill="#777" stroke="#777" stroke-width="0"/><circle cx="236.6" cy="457.6" r="1.6" fill="#000"/>
<polygon points="269.6,453.4 273.2,457 269.6,460.6 266,457" fill="#777" stroke="#777" stroke-width="0"/><circle cx="269.6" cy="457" r="1.6" fill="#000"/>
<polygon points="302.8,452.8 306.4,456.4 302.8,460 299.1,456.4" fill="#777" stroke="#777" stroke-width="0"/><circle cx="302.8" cy="456.4" r="1.6" fill="#000"/>
<polygon points="335.9,454 339.5,457.6 335.9,461.2 332.2,457.6" fill="#777" stroke="#777" stroke-width="0"/><circle cx="335.9" cy="457.6" r="1.6" fill="#000"/>
<polygon points="368.9,454.6 372.6,458.2 368.9,461.8 365.3,458.2" fill="#777" stroke="#777" stroke-width="0"/><circle cx="368.9" cy="458.2" r="1.6" fill="#000"/>
<polygon points="402.1,454.3 405.7,457.9 402.1,461.5 398.4,457.9" fill="#777" stroke="#777" stroke-width="0"/><circle cx="402.1" cy="457.9" r="1.6" fill="#000"/>
<polygon points="435.2,451.4 438.8,455 435.2,458.6 431.6,455" fill="#777" stroke="#777" stroke-width="0"/><circle cx="435.2" cy="455" r="1.6" fill="#000"/>
<polygon points="468.2,452.8 471.9,456.4 468.2,460 464.6,456.4" fill="#777" stroke="#777" stroke-width="0"/><circle cx="468.2" cy="456.4" r="1.6" fill="#000"/>
<polygon points="501.4,452.8 505,456.4 501.4,460 497.8,456.4" fill="#777" stroke="#777" stroke-width="0"/><circle cx="501.4" cy="456.4" r="1.6" fill="#000"/>
<path d="M54.5 345.6V483.6H517.9" fill="none" stroke="#000" stroke-width="2"/>
<text x="37.3" y="487.9" text-anchor="end">0.00</text>
<line x1="54.5" y1="456" x2="59" y2="456" stroke="#000" stroke-width="2"/>
<text x="37.3" y="460.3" text-anchor="end">0.20</text>
<line x1="54.5" y1="428.4" x2="59" y2="428.4" stroke="#000" stroke-width="2"/>
<text x="37.3" y="432.7" text-anchor="end">0.40</text>
<line x1="54.5" y1="400.8" x2="59" y2="400.8" stroke="#000" stroke-width="2"/>
<text x="37.3" y="405.1" text-anchor="end">0.60</text>
<line x1="54.5" y1="373.2" x2="59" y2="373.2" stroke="#000" stroke-width="2"/>
<text x="37.3" y="377.5" text-anchor="end">0.80</text>
<line x1="54.5" y1="345.6" x2="59" y2="345.6" stroke="#000" stroke-width="2"/>
<text x="37.3" y="349.9" text-anchor="end">1.00</text>
<text x="18.2" y="320.1">Index</text>
<text transform="translate(71.8,502.7) rotate(-45)" text-anchor="end" font-size="13.6" textLength="31" lengthAdjust="spacingAndGlyphs">2006</text>
<text transform="translate(105,502.7) rotate(-45)" text-anchor="end" font-size="13.6" textLength="31" lengthAdjust="spacingAndGlyphs">2007</text>
<text transform="translate(138.1,502.7) rotate(-45)" text-anchor="end" font-size="13.6" textLength="31" lengthAdjust="spacingAndGlyphs">2008</text>
<text transform="translate(171.2,502.7) rotate(-45)" text-anchor="end" font-size="13.6" textLength="31" lengthAdjust="spacingAndGlyphs">2009</text>
<text transform="translate(204.3,502.7) rotate(-45)" text-anchor="end" font-size="13.6" textLength="31" lengthAdjust="spacingAndGlyphs">2010</text>
<text transform="translate(237.4,502.7) rotate(-45)" text-anchor="end" font-size="13.6" textLength="31" lengthAdjust="spacingAndGlyphs">2011</text>
<text transform="translate(270.4,502.7) rotate(-45)" text-anchor="end" font-size="13.6" textLength="31" lengthAdjust="spacingAndGlyphs">2012</text>
<text transform="translate(303.6,502.7) rotate(-45)" text-anchor="end" font-size="13.6" textLength="31" lengthAdjust="spacingAndGlyphs">2013</text>
<text transform="translate(336.7,502.7) rotate(-45)" text-anchor="end" font-size="13.6" textLength="31" lengthAdjust="spacingAndGlyphs">2014</text>
<text transform="translate(369.8,502.7) rotate(-45)" text-anchor="end" font-size="13.6" textLength="31" lengthAdjust="spacingAndGlyphs">2015</text>
<text transform="translate(402.9,502.7) rotate(-45)" text-anchor="end" font-size="13.6" textLength="31" lengthAdjust="spacingAndGlyphs">2016</text>
<text transform="translate(436,502.7) rotate(-45)" text-anchor="end" font-size="13.6" textLength="31" lengthAdjust="spacingAndGlyphs">2017</text>
<text transform="translate(469.1,502.7) rotate(-45)" text-anchor="end" font-size="13.6" textLength="31" lengthAdjust="spacingAndGlyphs">2018</text>
<text transform="translate(502.2,502.7) rotate(-45)" text-anchor="end" font-size="13.6" textLength="31" lengthAdjust="spacingAndGlyphs">2019</text>
<text x="508.4" y="514.5">Time</text>
<text x="141" y="544.2" font-family='"Liberation Serif", "Times New Roman", serif' font-weight="bold" font-size="15.5" class="ttl" textLength="298.3" lengthAdjust="spacing">(c) Transportation Network Index</text>
<line x1="75.8" y1="291.5" x2="118" y2="291.5" stroke="#666666" stroke-width="1.6"/><polygon points="96.9,287.7 100.7,291.5 96.9,295.3 93.1,291.5" fill="#5e5e5e"/><text x="122.2" y="295.7">Ankang City</text>
<line x1="231.6" y1="291.5" x2="273.5" y2="291.5" stroke="#000" stroke-width="1.6" stroke-dasharray="1.2 1.6"/><rect x="249.6" y="288.5" width="6" height="6" fill="#000"/><text x="278" y="295.7">Baoji City</text>
<line x1="387.4" y1="291.5" x2="429.2" y2="291.5" stroke="#999" stroke-width="1.6"/><polygon points="408.3,286.7 413.2,296.7 403.4,296.7" fill="#8c8c8c"/><text x="433.8" y="295.7">Hanzhong City</text>
<line x1="75.8" y1="308.3" x2="118" y2="308.3" stroke="#1a1a1a" stroke-width="1.8"/><path d="M93.7 305.1L100.1 311.5M100.1 305.1L93.7 311.5" stroke="#000" stroke-width="2.4" fill="none"/><text x="122.2" y="312.5">Shangluo City</text>
<line x1="231.6" y1="308.3" x2="273.5" y2="308.3" stroke="#404040" stroke-width="1.8" stroke-dasharray="3.2 1.8"/><path d="M250 305.7L255.2 310.9M255.2 305.7L250 310.9" stroke="#3a3a3a" stroke-width="2.4" fill="none"/><text x="278" y="312.5" textLength="91.5" lengthAdjust="spacingAndGlyphs">Tongchuan City</text>
<line x1="387.4" y1="308.3" x2="429.2" y2="308.3" stroke="#000" stroke-width="1.6" stroke-dasharray="1.2 1.6"/><circle cx="408.3" cy="308.3" r="3.1" fill="#000"/><text x="433.8" y="312.5" textLength="71.2" lengthAdjust="spacingAndGlyphs">Weinan City</text>
<line x1="75.8" y1="324.5" x2="118" y2="324.5" stroke="#808080" stroke-width="1.6"/><path d="M93.5 324.5L100.3 324.5M96.9 321.1L96.9 327.9" stroke="#808080" stroke-width="1.8" fill="none"/><text x="122.2" y="328.7">Xi'an City</text>
<line x1="231.6" y1="324.5" x2="273.5" y2="324.5" stroke="#6b6b6b" stroke-width="1.8"/><rect x="250.2" y="323.1" width="4.6" height="2.8" rx="1.4" fill="#666"/><text x="278" y="328.7">Xianyang City</text>
<line x1="387.4" y1="324.5" x2="429.2" y2="324.5" stroke="#a8a8a8" stroke-width="1.7"/><rect x="403.8" y="323.2" width="9" height="2.6" rx="1.3" fill="#a0a0a0"/><text x="433.8" y="328.7">Yan'an City</text>
<line x1="75.8" y1="340.9" x2="118" y2="340.9" stroke="#000" stroke-width="1.8" stroke-dasharray="5 3.5"/><polygon points="96.9,337.3 100.5,340.9 96.9,344.5 93.3,340.9" fill="#777" stroke="#777" stroke-width="0"/><circle cx="96.9" cy="340.9" r="1.6" fill="#000"/><text x="122.2" y="345.1">Yulin City</text>
</svg>
</body></html>
